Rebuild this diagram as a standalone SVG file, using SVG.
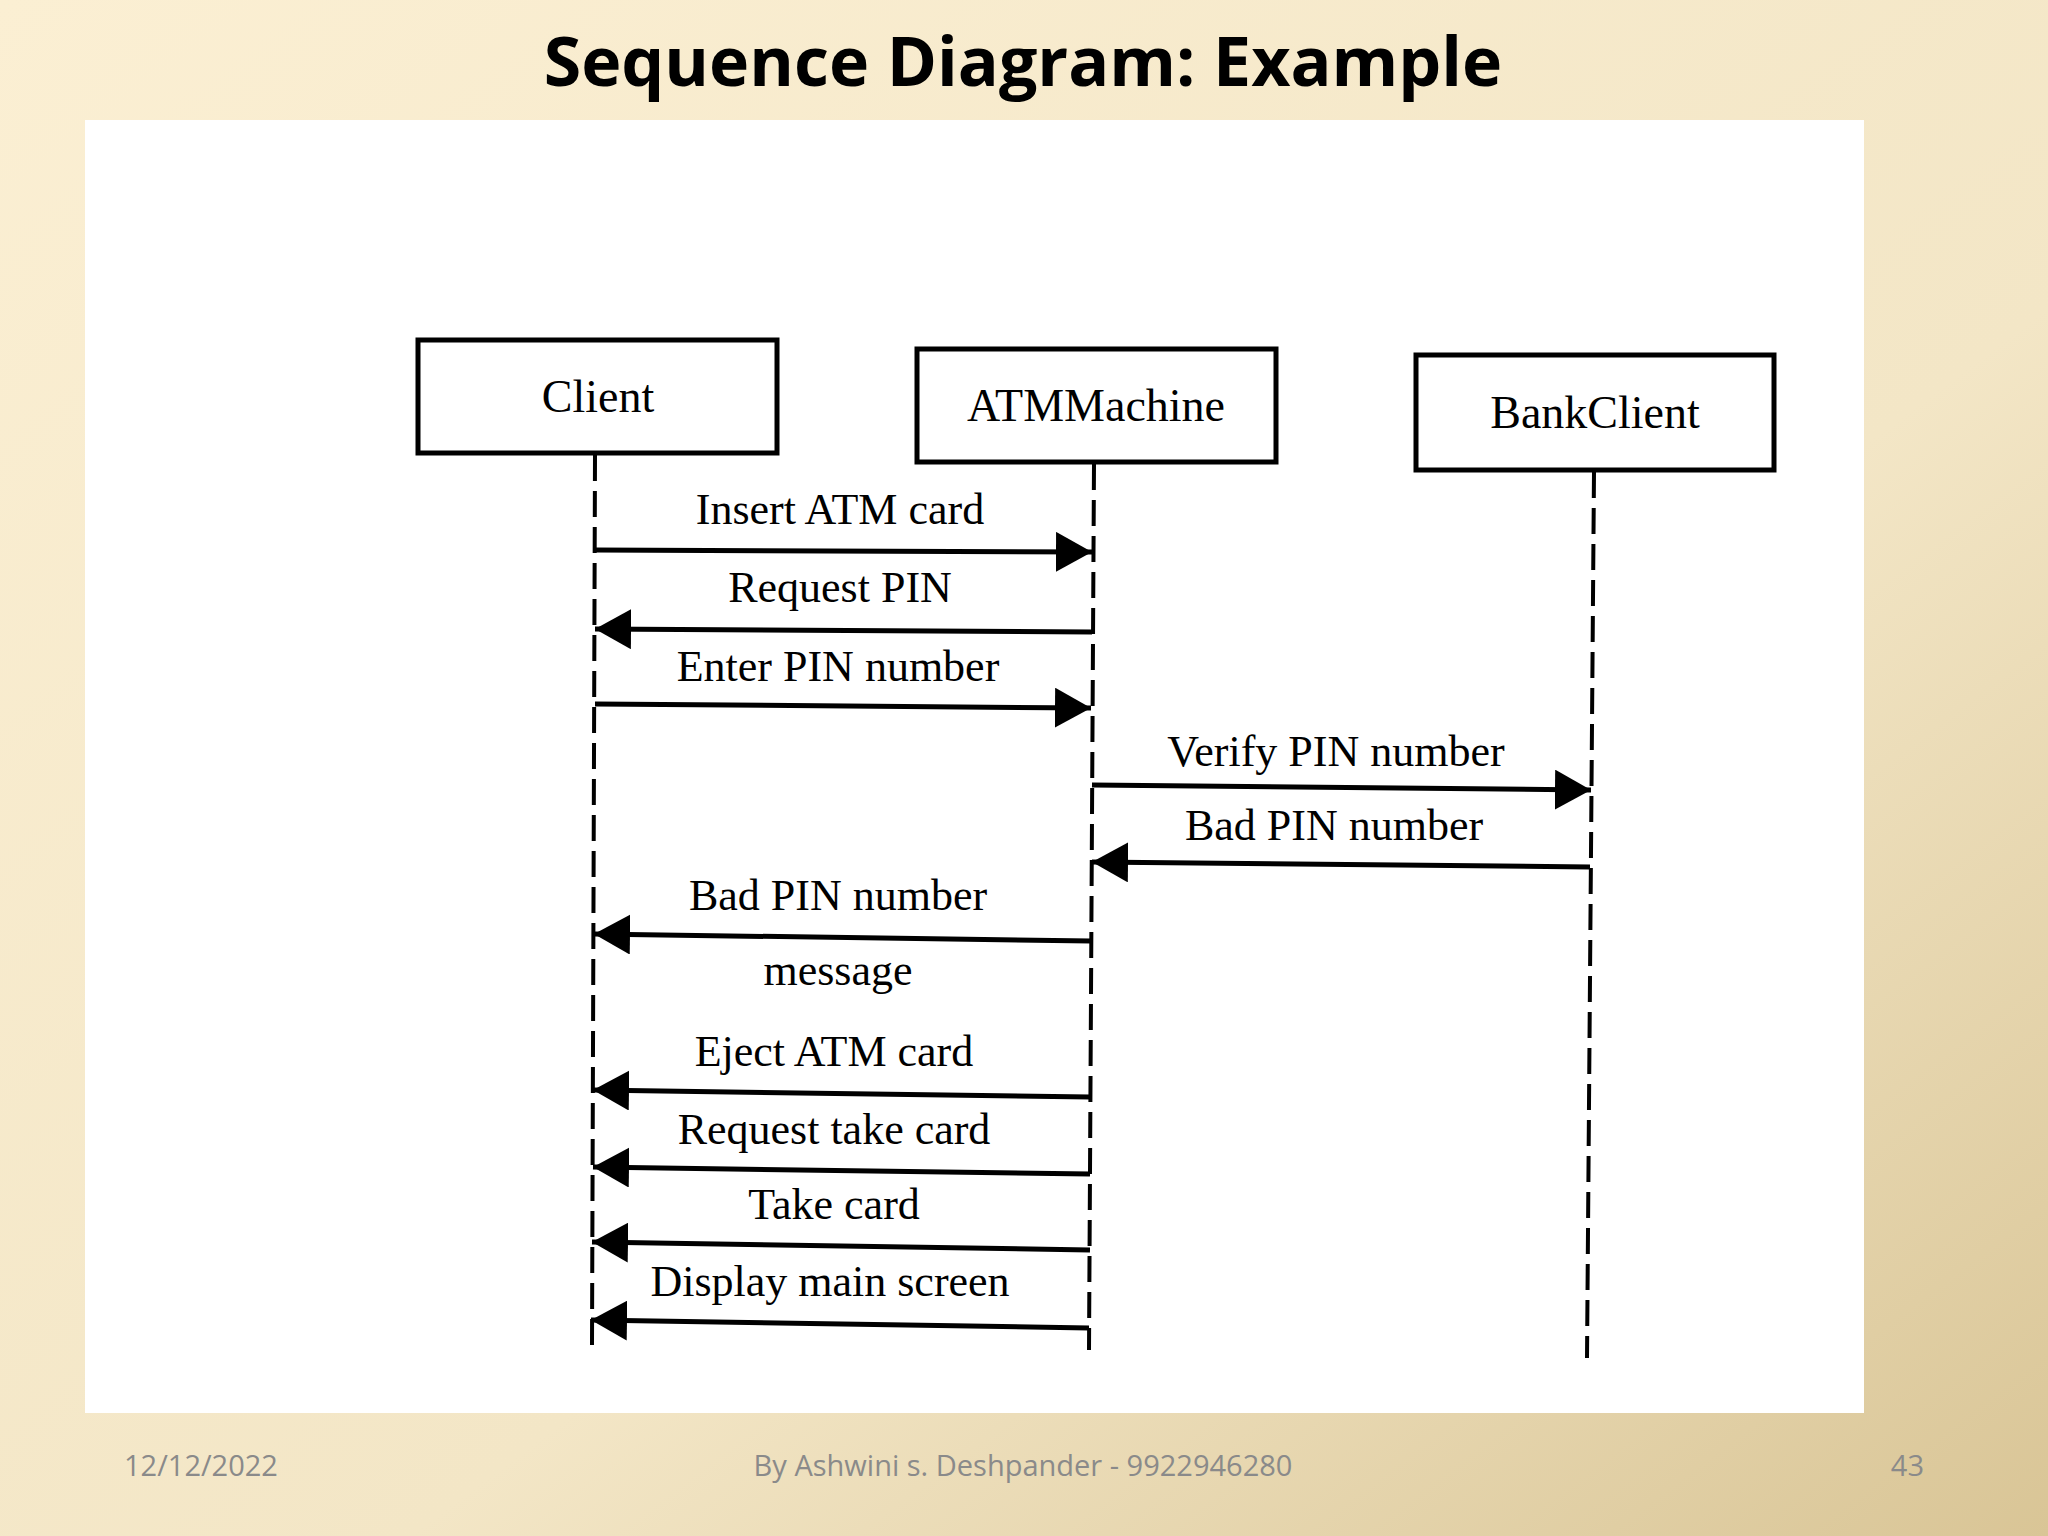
<svg xmlns="http://www.w3.org/2000/svg" width="2048" height="1536" viewBox="0 0 2048 1536">
<defs>
<linearGradient id="bg" x1="0" y1="0" x2="1" y2="1">
<stop offset="0" stop-color="#fbefd3"/><stop offset="0.6" stop-color="#f3e6c6"/><stop offset="1" stop-color="#d9c596"/>
</linearGradient>
<marker id="ah" viewBox="0 0 36 40" refX="36" refY="20" markerWidth="36" markerHeight="40" markerUnits="userSpaceOnUse" orient="auto">
<path d="M0,0 L36,20 L0,40 Z" fill="#000"/>
</marker>
<style>
.box{fill:#fff;stroke:#000;stroke-width:5}
.life{stroke:#000;stroke-width:4;stroke-dasharray:26 10;fill:none}
.msg{stroke:#000;stroke-width:5;fill:none;marker-end:url(#ah)}
.bl{font-family:"Liberation Serif",serif;font-size:46px;text-anchor:middle}
.ml{font-family:"Liberation Serif",serif;font-size:44px;text-anchor:middle}
.ft{font-family:"Open Sans","Liberation Sans",sans-serif;font-size:29px;fill:#8a8a8a}
</style>
</defs>
<rect width="2048" height="1536" fill="url(#bg)"/>
<text x="1023" y="86" font-family="'Open Sans','Liberation Sans',sans-serif" font-weight="bold" font-size="68" text-anchor="middle">Sequence Diagram: Example</text>
<rect x="85" y="120" width="1779" height="1293" fill="#fff"/>
<g id="client"><rect class="box" x="418" y="340" width="359" height="113"/><text class="bl" x="598" y="412">Client</text></g>
<g id="atm"><rect class="box" x="917" y="349" width="359" height="113"/><text class="bl" x="1096" y="421">ATMMachine</text></g>
<g id="bank"><rect class="box" x="1416" y="355" width="358" height="115"/><text class="bl" x="1595" y="428">BankClient</text></g>
<g id="connectors">
<line class="life" x1="595" y1="455" x2="592" y2="1345"/>
<line class="life" x1="1094" y1="464" x2="1089" y2="1350"/>
<line class="life" x1="1594" y1="472" x2="1587" y2="1358"/>
<line class="msg" x1="595" y1="550" x2="1092" y2="552"/>
<line class="msg" x1="1092" y1="632" x2="595" y2="629"/>
<line class="msg" x1="595" y1="704" x2="1091" y2="708"/>
<line class="msg" x1="1092" y1="785" x2="1591" y2="790"/>
<line class="msg" x1="1590" y1="867" x2="1092" y2="862"/>
<line class="msg" x1="1091" y1="941" x2="594" y2="934"/>
<line class="msg" x1="1090" y1="1097" x2="593" y2="1090"/>
<line class="msg" x1="1090" y1="1174" x2="593" y2="1167"/>
<line class="msg" x1="1090" y1="1250" x2="592" y2="1242"/>
<line class="msg" x1="1089" y1="1328" x2="591" y2="1320"/>
</g>
<g id="labels">
<text class="ml" x="840" y="524">Insert ATM card</text>
<text class="ml" x="840" y="602">Request PIN</text>
<text class="ml" x="838" y="681">Enter PIN number</text>
<text class="ml" x="1336" y="766">Verify PIN number</text>
<text class="ml" x="1334" y="840">Bad PIN number</text>
<text class="ml" x="838" y="910">Bad PIN number</text>
<text class="ml" x="838" y="985">message</text>
<text class="ml" x="834" y="1066">Eject ATM card</text>
<text class="ml" x="834" y="1144">Request take card</text>
<text class="ml" x="834" y="1219">Take card</text>
<text class="ml" x="830" y="1296">Display main screen</text>
</g>
<text class="ft" x="124" y="1476">12/12/2022</text>
<text class="ft" x="1023" y="1476" text-anchor="middle">By Ashwini s. Deshpander - 9922946280</text>
<text class="ft" x="1924" y="1476" text-anchor="end">43</text>
</svg>
